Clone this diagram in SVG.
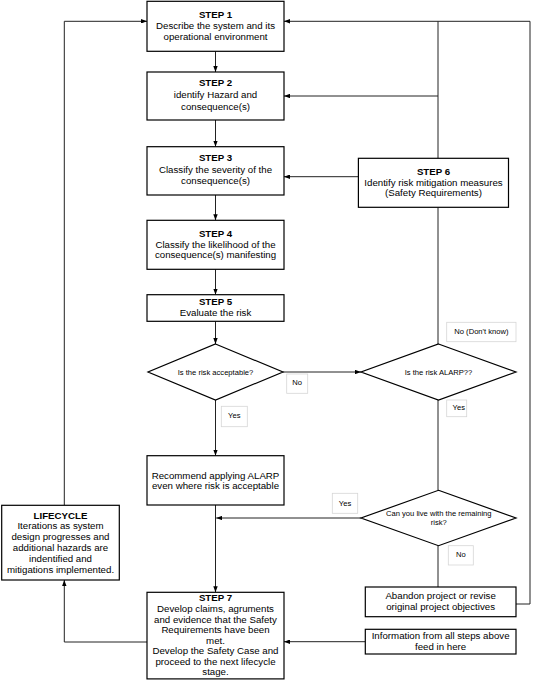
<svg xmlns="http://www.w3.org/2000/svg" width="540" height="682" viewBox="0 0 540 682">
<style>
.box{fill:#fff;stroke:#000;stroke-width:1.2}
.lbl{fill:#fff;stroke:#d6d6d6;stroke-width:0.8}
.t{font-family:"Liberation Sans",Arial,sans-serif;font-size:9.7px;fill:#000;text-anchor:middle}
.b{font-weight:bold}
.s{font-family:"Liberation Sans",Arial,sans-serif;font-size:7.6px;fill:#000;text-anchor:middle}
.c{fill:none;stroke:#222;stroke-width:1}
.a{marker-end:url(#ah)}
</style>
<defs>
<marker id="ah" viewBox="0 0 6 4.4" refX="6" refY="2.2" markerWidth="6" markerHeight="4.4" markerUnits="userSpaceOnUse" orient="auto">
<path d="M0,0 L6,2.2 L0,4.4 z" fill="#000"/>
</marker>
</defs>
<rect width="540" height="682" fill="#fff"/>
<g id="connectors">
<path class="c a" d="M215.5,51.3 V72"/>
<path class="c a" d="M215.5,120 V146.7"/>
<path class="c a" d="M215.5,195 V220.3"/>
<path class="c a" d="M215.5,269.3 V294.7"/>
<path class="c a" d="M215.5,321.3 V344"/>
<path class="c a" d="M283,372 H361"/>
<path class="c a" d="M215.5,400 V455.7"/>
<path class="c" d="M438,344 V207.3"/>
<path class="c" d="M438,158.3 V21.3"/>
<path class="c a" d="M530,21.3 H284"/>
<path class="c a" d="M438,96 H284"/>
<path class="c a" d="M358.4,176.7 H284"/>
<path class="c" d="M438,400 V490"/>
<path class="c a" d="M361,518 H216.2"/>
<path class="c a" d="M215.5,505 V592.3"/>
<path class="c" d="M438,545.7 V587"/>
<path class="c" d="M516,604 H530 V21.3"/>
<path class="c a" d="M365.3,641.7 H284"/>
<path class="c a" d="M147,642 H64.3 V580"/>
<path class="c a" d="M64.3,505.3 V21.3 H147"/>
</g>
<g id="step1">
<rect class="box" x="147" y="1.3" width="137" height="50"/>
<text class="t b" x="215.5" y="18.2">STEP 1</text>
<text class="t" x="215.5" y="28.8">Describe the system and its</text>
<text class="t" x="215.5" y="39.5">operational environment</text>
</g>
<g id="step2">
<rect class="box" x="147" y="72" width="137" height="48"/>
<text class="t b" x="215.5" y="86.4">STEP 2</text>
<text class="t" x="215.5" y="98.3">identify Hazard and</text>
<text class="t" x="215.5" y="109.8">consequence(s)</text>
</g>
<g id="step3">
<rect class="box" x="147" y="146.7" width="137" height="48.3"/>
<text class="t b" x="215.5" y="160.8">STEP 3</text>
<text class="t" x="215.5" y="172.6">Classify the severity of the</text>
<text class="t" x="215.5" y="184.2">consequence(s)</text>
</g>
<g id="step4">
<rect class="box" x="147" y="220.3" width="137" height="49"/>
<text class="t b" x="215.5" y="236.8">STEP 4</text>
<text class="t" x="215.5" y="247.5">Classify the likelihood of the</text>
<text class="t" x="215.5" y="258.2">consequence(s) manifesting</text>
</g>
<g id="step5">
<rect class="box" x="147" y="294.7" width="137" height="26.6"/>
<text class="t b" x="215.5" y="304.8">STEP 5</text>
<text class="t" x="215.5" y="315.5">Evaluate the risk</text>
</g>
<g id="step6">
<rect class="box" x="358.4" y="158.3" width="150.1" height="49"/>
<text class="t b" x="433.5" y="174.8">STEP 6</text>
<text class="t" x="433.5" y="185.8">Identify risk mitigation measures</text>
<text class="t" x="433.5" y="196.3">(Safety Requirements)</text>
</g>
<g id="decision1">
<path class="box" d="M215.5,344 L283,372 L215.5,400 L148,372 z"/>
<text class="s" x="215.5" y="374.7">Is the risk acceptable?</text>
</g>
<g id="decision2">
<path class="box" d="M438.5,344 L516,372 L438.5,400 L361,372 z"/>
<text class="s" x="438.5" y="374.7">Is the risk ALARP??</text>
</g>
<g id="decision3">
<path class="box" d="M438.5,490.3 L516,518 L438.5,545.7 L361,518 z"/>
<text class="s" x="438.8" y="516">Can you live with the remaining</text>
<text class="s" x="438.8" y="525">risk?</text>
</g>
<g id="recommend">
<rect class="box" x="147" y="455.7" width="137" height="49.3"/>
<text class="t" x="215.5" y="478.8">Recommend applying ALARP</text>
<text class="t" x="215.5" y="488.8">even where risk is acceptable</text>
</g>
<g id="lifecycle">
<rect class="box" x="1.7" y="505.3" width="117.6" height="74.7"/>
<text class="t b" x="60.5" y="518.5">LIFECYCLE</text>
<text class="t" x="60.5" y="529.3">Iterations as system</text>
<text class="t" x="60.5" y="540.1">design progresses and</text>
<text class="t" x="60.5" y="550.9">additional hazards are</text>
<text class="t" x="60.5" y="561.7">indentified and</text>
<text class="t" x="60.5" y="572.5">mitigations implemented.</text>
</g>
<g id="step7">
<rect class="box" x="147" y="592.3" width="137" height="86.6"/>
<text class="t b" x="215.5" y="601.2">STEP 7</text>
<text class="t" x="215.5" y="612">Develop claims, agruments</text>
<text class="t" x="215.5" y="622.6">and evidence that the Safety</text>
<text class="t" x="215.5" y="633.2">Requirements have been</text>
<text class="t" x="215.5" y="643.6">met.</text>
<text class="t" x="215.5" y="654.4">Develop the Safety Case and</text>
<text class="t" x="215.5" y="665">proceed to the next lifecycle</text>
<text class="t" x="215.5" y="675.4">stage.</text>
</g>
<g id="abandon">
<rect class="box" x="365.3" y="587" width="150.7" height="29.7"/>
<text class="t" x="440.6" y="599.2">Abandon project or revise</text>
<text class="t" x="440.6" y="610.2">original project objectives</text>
</g>
<g id="information">
<rect class="box" x="365.3" y="629.3" width="150.7" height="24.7"/>
<text class="t" x="440.6" y="638.8">Information from all steps above</text>
<text class="t" x="440.6" y="650.2">feed in here</text>
</g>
<g id="labels">
<rect class="lbl" x="286.7" y="374" width="21" height="19.3"/>
<text class="s" x="297.2" y="385.4">No</text>
<rect class="lbl" x="221.3" y="406.3" width="26" height="20.4"/>
<text class="s" x="234.3" y="418.2">Yes</text>
<rect class="lbl" x="446.7" y="322.3" width="69.3" height="19.4"/>
<text class="s" x="481.4" y="333.5">No (Don't know)</text>
<rect class="lbl" x="446.7" y="400" width="20" height="16.7"/>
<text class="s" x="458.8" y="410.4">Yes</text>
<rect class="lbl" x="332.3" y="493.3" width="25.4" height="20"/>
<text class="s" x="345" y="505.7">Yes</text>
<rect class="lbl" x="448.3" y="545.7" width="25" height="19.3"/>
<text class="s" x="460.8" y="556.7">No</text>
</g>
</svg>
